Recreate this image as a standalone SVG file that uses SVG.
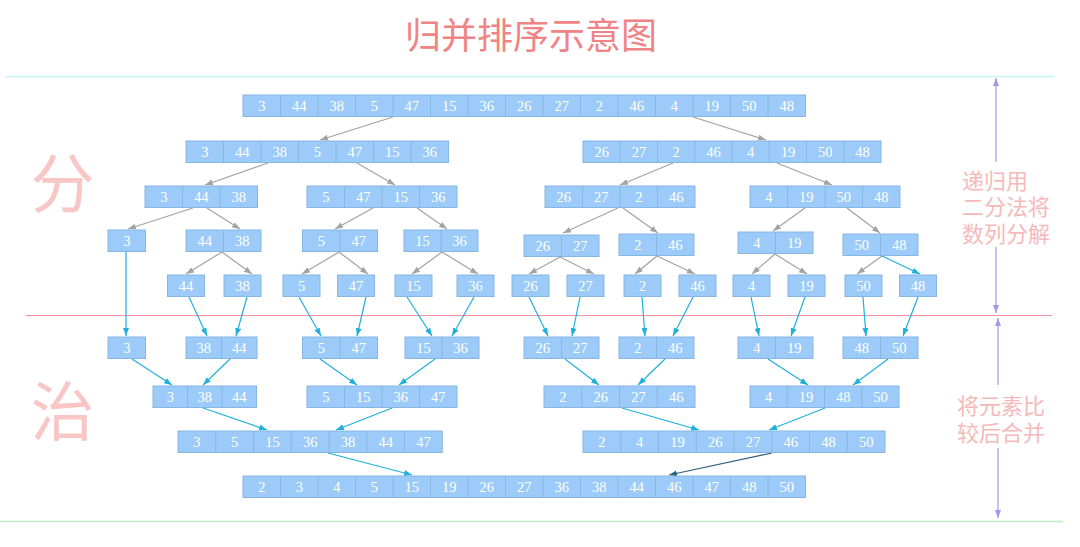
<svg xmlns="http://www.w3.org/2000/svg" width="1080" height="547" viewBox="0 0 1080 547">
<style>
.b{fill:#9ccbf9;stroke:#88b6e2;stroke-width:1}
.d{fill:none;stroke:#88b6e2;stroke-width:1}
.t{font-family:"Liberation Serif",serif;font-size:14.5px;fill:#ffffff;text-anchor:middle}
.g{stroke:#a3a3a3;stroke-width:1.2;fill:none;marker-end:url(#mg)}
.c{stroke:#1fb0dc;stroke-width:1.2;fill:none;marker-end:url(#mc)}
.k{stroke:#2d5f7a;stroke-width:1.2;fill:none;marker-end:url(#mk)}
.v{stroke:#9c9cea;stroke-width:1.2;fill:none}
.cjk{font-family:"Noto Sans CJK SC","Noto Sans",sans-serif}
</style>
<defs>
<marker id="mg" markerUnits="userSpaceOnUse" markerWidth="9" markerHeight="7" refX="8" refY="3" orient="auto"><path d="M0,0 L8,3 L0,6 z" fill="#a3a3a3"/></marker>
<marker id="mc" markerUnits="userSpaceOnUse" markerWidth="9" markerHeight="7" refX="8" refY="3" orient="auto"><path d="M0,0 L8,3 L0,6 z" fill="#1fb0dc"/></marker>
<marker id="mk" markerUnits="userSpaceOnUse" markerWidth="9" markerHeight="7" refX="8" refY="3" orient="auto"><path d="M0,0 L8,3 L0,6 z" fill="#2d5f7a"/></marker>
<marker id="mv" markerUnits="userSpaceOnUse" markerWidth="9" markerHeight="7" refX="8" refY="3" orient="auto-start-reverse"><path d="M0,0 L8,3 L0,6 z" fill="#9c9cea"/></marker>
</defs>
<rect width="1080" height="547" fill="#ffffff"/>

<g id="title"><text class="cjk" x="531" y="49" font-size="36" fill="#f08383" text-anchor="middle">归并排序示意图</text></g>

<g id="guides">
<line x1="5" y1="76.5" x2="1055" y2="76.5" stroke="#c6f4ee" stroke-width="1.5"/>
<line x1="26" y1="315.5" x2="1052" y2="315.5" stroke="#f3959f" stroke-width="1"/>
<line x1="0" y1="521.5" x2="1063" y2="521.5" stroke="#b9f0c3" stroke-width="1.5"/>
</g>

<g id="side-labels">
<text class="cjk" x="62.5" y="207" font-size="64" fill="#f9c6c6" text-anchor="middle">分</text>
<text class="cjk" x="62.5" y="435" font-size="64" fill="#f9c6c6" text-anchor="middle">治</text>
<g class="cjk" font-size="22" fill="#f6b9b9">
<text x="962" y="189">递归用</text>
<text x="962" y="215">二分法将</text>
<text x="962" y="242">数列分解</text>
<text x="957" y="414">将元素比</text>
<text x="957" y="441">较后合并</text>
</g>
<line class="v" x1="996" y1="78" x2="996" y2="162" marker-start="url(#mv)"/>
<line class="v" x1="996" y1="247" x2="996" y2="313" marker-end="url(#mv)"/>
<line class="v" x1="998" y1="318" x2="998" y2="385" marker-start="url(#mv)"/>
<line class="v" x1="998" y1="448" x2="998" y2="518" marker-end="url(#mv)"/>
</g>

<g id="connectors">
<line class="g" x1="393" y1="117" x2="320" y2="140"/>
<line class="g" x1="693" y1="117" x2="766" y2="140"/>
<line class="g" x1="268" y1="163" x2="205" y2="185"/>
<line class="g" x1="357" y1="163" x2="395" y2="185"/>
<line class="g" x1="673" y1="163" x2="620" y2="185"/>
<line class="g" x1="777" y1="163" x2="832" y2="185"/>
<line class="g" x1="193" y1="208" x2="128" y2="229"/>
<line class="g" x1="207" y1="208" x2="240" y2="229"/>
<line class="g" x1="373" y1="208" x2="335" y2="229"/>
<line class="g" x1="417" y1="208" x2="447" y2="229"/>
<line class="g" x1="618" y1="208" x2="563" y2="233"/>
<line class="g" x1="623" y1="208" x2="658" y2="233"/>
<line class="g" x1="805" y1="208" x2="773" y2="231"/>
<line class="g" x1="847" y1="208" x2="880" y2="233"/>
<line class="g" x1="222" y1="252" x2="186" y2="274"/>
<line class="g" x1="222" y1="252" x2="252" y2="274"/>
<line class="g" x1="339" y1="252" x2="302" y2="274"/>
<line class="g" x1="339" y1="252" x2="368" y2="274"/>
<line class="g" x1="442" y1="252" x2="412" y2="274"/>
<line class="g" x1="442" y1="252" x2="478" y2="274"/>
<line class="g" x1="560" y1="257" x2="529" y2="274"/>
<line class="g" x1="560" y1="257" x2="594" y2="274"/>
<line class="g" x1="657" y1="256" x2="635" y2="274"/>
<line class="g" x1="657" y1="256" x2="695" y2="274"/>
<line class="g" x1="775" y1="254" x2="752" y2="274"/>
<line class="g" x1="775" y1="254" x2="807" y2="274"/>
<line class="g" x1="882" y1="256" x2="857" y2="274"/>
<line class="c" x1="882" y1="256" x2="920" y2="274"/>
<line class="c" x1="126" y1="252" x2="126" y2="336"/>
<line class="c" x1="189" y1="297" x2="207" y2="336"/>
<line class="c" x1="247" y1="297" x2="236" y2="336"/>
<line class="c" x1="299" y1="297" x2="321" y2="336"/>
<line class="c" x1="366" y1="297" x2="357" y2="336"/>
<line class="c" x1="407" y1="297" x2="432" y2="336"/>
<line class="c" x1="474" y1="297" x2="452" y2="336"/>
<line class="c" x1="529" y1="297" x2="548" y2="336"/>
<line class="c" x1="580" y1="297" x2="572" y2="336"/>
<line class="c" x1="642" y1="297" x2="645" y2="336"/>
<line class="c" x1="693" y1="297" x2="673" y2="336"/>
<line class="c" x1="751" y1="297" x2="759" y2="336"/>
<line class="c" x1="805" y1="297" x2="791" y2="336"/>
<line class="c" x1="863" y1="297" x2="866" y2="336"/>
<line class="c" x1="918" y1="297" x2="903" y2="336"/>
<line class="c" x1="132" y1="359" x2="172" y2="385"/>
<line class="c" x1="230" y1="359" x2="203" y2="385"/>
<line class="c" x1="320" y1="359" x2="357" y2="385"/>
<line class="c" x1="435" y1="359" x2="399" y2="385"/>
<line class="c" x1="565" y1="359" x2="599" y2="385"/>
<line class="c" x1="665" y1="359" x2="638" y2="385"/>
<line class="c" x1="768" y1="359" x2="808" y2="385"/>
<line class="c" x1="888" y1="359" x2="853" y2="385"/>
<line class="c" x1="203" y1="408" x2="267" y2="430"/>
<line class="c" x1="392" y1="408" x2="336" y2="430"/>
<line class="c" x1="622" y1="408" x2="699" y2="430"/>
<line class="c" x1="825" y1="408" x2="769" y2="430"/>
<line class="c" x1="328" y1="453" x2="412" y2="475"/>
<line class="k" x1="772" y1="453" x2="669" y2="475"/>
</g>

<g id="n1" transform="translate(243,95)"><rect class="b" width="562.5" height="21.5"/><path class="d" d="M37.5 0v21.5M75 0v21.5M112.5 0v21.5M150 0v21.5M187.5 0v21.5M225 0v21.5M262.5 0v21.5M300 0v21.5M337.5 0v21.5M375 0v21.5M412.5 0v21.5M450 0v21.5M487.5 0v21.5M525 0v21.5"/>
<text class="t" x="18.75" y="15.5">3</text><text class="t" x="56.25" y="15.5">44</text><text class="t" x="93.75" y="15.5">38</text><text class="t" x="131.25" y="15.5">5</text><text class="t" x="168.75" y="15.5">47</text><text class="t" x="206.25" y="15.5">15</text><text class="t" x="243.75" y="15.5">36</text><text class="t" x="281.25" y="15.5">26</text><text class="t" x="318.75" y="15.5">27</text><text class="t" x="356.25" y="15.5">2</text><text class="t" x="393.75" y="15.5">46</text><text class="t" x="431.25" y="15.5">4</text><text class="t" x="468.75" y="15.5">19</text><text class="t" x="506.25" y="15.5">50</text><text class="t" x="543.75" y="15.5">48</text></g>

<g id="n2" transform="translate(186,141)"><rect class="b" width="262.5" height="21.5"/><path class="d" d="M37.5 0v21.5M75 0v21.5M112.5 0v21.5M150 0v21.5M187.5 0v21.5M225 0v21.5"/>
<text class="t" x="18.75" y="15.5">3</text><text class="t" x="56.25" y="15.5">44</text><text class="t" x="93.75" y="15.5">38</text><text class="t" x="131.25" y="15.5">5</text><text class="t" x="168.75" y="15.5">47</text><text class="t" x="206.25" y="15.5">15</text><text class="t" x="243.75" y="15.5">36</text></g>

<g id="n3" transform="translate(583,141)"><rect class="b" width="298" height="21.5"/><path class="d" d="M37.25 0v21.5M74.5 0v21.5M111.75 0v21.5M149 0v21.5M186.25 0v21.5M223.5 0v21.5M260.75 0v21.5"/>
<text class="t" x="18.625" y="15.5">26</text><text class="t" x="55.875" y="15.5">27</text><text class="t" x="93.125" y="15.5">2</text><text class="t" x="130.375" y="15.5">46</text><text class="t" x="167.625" y="15.5">4</text><text class="t" x="204.875" y="15.5">19</text><text class="t" x="242.125" y="15.5">50</text><text class="t" x="279.375" y="15.5">48</text></g>

<g id="n4" transform="translate(145,186)"><rect class="b" width="112.5" height="21.5"/><path class="d" d="M37.5 0v21.5M75 0v21.5"/>
<text class="t" x="18.75" y="15.5">3</text><text class="t" x="56.25" y="15.5">44</text><text class="t" x="93.75" y="15.5">38</text></g>

<g id="n5" transform="translate(307,186)"><rect class="b" width="150" height="21.5"/><path class="d" d="M37.5 0v21.5M75 0v21.5M112.5 0v21.5"/>
<text class="t" x="18.75" y="15.5">5</text><text class="t" x="56.25" y="15.5">47</text><text class="t" x="93.75" y="15.5">15</text><text class="t" x="131.25" y="15.5">36</text></g>

<g id="n6" transform="translate(545,186)"><rect class="b" width="150" height="21.5"/><path class="d" d="M37.5 0v21.5M75 0v21.5M112.5 0v21.5"/>
<text class="t" x="18.75" y="15.5">26</text><text class="t" x="56.25" y="15.5">27</text><text class="t" x="93.75" y="15.5">2</text><text class="t" x="131.25" y="15.5">46</text></g>

<g id="n7" transform="translate(750,186)"><rect class="b" width="150" height="21.5"/><path class="d" d="M37.5 0v21.5M75 0v21.5M112.5 0v21.5"/>
<text class="t" x="18.75" y="15.5">4</text><text class="t" x="56.25" y="15.5">19</text><text class="t" x="93.75" y="15.5">50</text><text class="t" x="131.25" y="15.5">48</text></g>

<g id="n8" transform="translate(108,230)"><rect class="b" width="37.5" height="21.5"/><text class="t" x="18.75" y="15.5">3</text></g>
<g id="n9" transform="translate(186,230)"><rect class="b" width="75" height="21.5"/><path class="d" d="M37.5 0v21.5"/><text class="t" x="18.75" y="15.5">44</text><text class="t" x="56.25" y="15.5">38</text></g>
<g id="n10" transform="translate(302.5,230)"><rect class="b" width="75" height="21.5"/><path class="d" d="M37.5 0v21.5"/><text class="t" x="18.75" y="15.5">5</text><text class="t" x="56.25" y="15.5">47</text></g>
<g id="n11" transform="translate(404,230)"><rect class="b" width="74" height="21.5"/><path class="d" d="M37 0v21.5"/><text class="t" x="18.5" y="15.5">15</text><text class="t" x="55.5" y="15.5">36</text></g>
<g id="n12" transform="translate(524,235)"><rect class="b" width="75" height="21.5"/><path class="d" d="M37.5 0v21.5"/><text class="t" x="18.75" y="15.5">26</text><text class="t" x="56.25" y="15.5">27</text></g>
<g id="n13" transform="translate(619,234)"><rect class="b" width="75" height="21.5"/><path class="d" d="M37.5 0v21.5"/><text class="t" x="18.75" y="15.5">2</text><text class="t" x="56.25" y="15.5">46</text></g>
<g id="n14" transform="translate(738,232)"><rect class="b" width="75" height="21.5"/><path class="d" d="M37.5 0v21.5"/><text class="t" x="18.75" y="15.5">4</text><text class="t" x="56.25" y="15.5">19</text></g>
<g id="n15" transform="translate(843,234)"><rect class="b" width="75" height="21.5"/><path class="d" d="M37.5 0v21.5"/><text class="t" x="18.75" y="15.5">50</text><text class="t" x="56.25" y="15.5">48</text></g>

<g id="n16" transform="translate(167.5,275)"><rect class="b" width="37" height="21.5"/><text class="t" x="18.5" y="15.5">44</text></g>
<g id="n17" transform="translate(224,275)"><rect class="b" width="37" height="21.5"/><text class="t" x="18.5" y="15.5">38</text></g>
<g id="n18" transform="translate(283,275)"><rect class="b" width="37" height="21.5"/><text class="t" x="18.5" y="15.5">5</text></g>
<g id="n19" transform="translate(337.5,275)"><rect class="b" width="37" height="21.5"/><text class="t" x="18.5" y="15.5">47</text></g>
<g id="n20" transform="translate(395,275)"><rect class="b" width="37" height="21.5"/><text class="t" x="18.5" y="15.5">15</text></g>
<g id="n21" transform="translate(457,275)"><rect class="b" width="37" height="21.5"/><text class="t" x="18.5" y="15.5">36</text></g>
<g id="n22" transform="translate(512,275)"><rect class="b" width="37" height="21.5"/><text class="t" x="18.5" y="15.5">26</text></g>
<g id="n23" transform="translate(567,275)"><rect class="b" width="37" height="21.5"/><text class="t" x="18.5" y="15.5">27</text></g>
<g id="n24" transform="translate(624,275)"><rect class="b" width="37" height="21.5"/><text class="t" x="18.5" y="15.5">2</text></g>
<g id="n25" transform="translate(679,275)"><rect class="b" width="37" height="21.5"/><text class="t" x="18.5" y="15.5">46</text></g>
<g id="n26" transform="translate(733,275)"><rect class="b" width="37" height="21.5"/><text class="t" x="18.5" y="15.5">4</text></g>
<g id="n27" transform="translate(788,275)"><rect class="b" width="37" height="21.5"/><text class="t" x="18.5" y="15.5">19</text></g>
<g id="n28" transform="translate(845,275)"><rect class="b" width="37" height="21.5"/><text class="t" x="18.5" y="15.5">50</text></g>
<g id="n29" transform="translate(899.5,275)"><rect class="b" width="37" height="21.5"/><text class="t" x="18.5" y="15.5">48</text></g>

<g id="n30" transform="translate(108,337)"><rect class="b" width="37.5" height="21.5"/><text class="t" x="18.75" y="15.5">3</text></g>
<g id="n31" transform="translate(186,337)"><rect class="b" width="71" height="21.5"/><path class="d" d="M35.5 0v21.5"/><text class="t" x="17.75" y="15.5">38</text><text class="t" x="53.25" y="15.5">44</text></g>
<g id="n32" transform="translate(302.5,337)"><rect class="b" width="75" height="21.5"/><path class="d" d="M37.5 0v21.5"/><text class="t" x="18.75" y="15.5">5</text><text class="t" x="56.25" y="15.5">47</text></g>
<g id="n33" transform="translate(405,337)"><rect class="b" width="74" height="21.5"/><path class="d" d="M37 0v21.5"/><text class="t" x="18.5" y="15.5">15</text><text class="t" x="55.5" y="15.5">36</text></g>
<g id="n34" transform="translate(524,337)"><rect class="b" width="75" height="21.5"/><path class="d" d="M37.5 0v21.5"/><text class="t" x="18.75" y="15.5">26</text><text class="t" x="56.25" y="15.5">27</text></g>
<g id="n35" transform="translate(619,337)"><rect class="b" width="75" height="21.5"/><path class="d" d="M37.5 0v21.5"/><text class="t" x="18.75" y="15.5">2</text><text class="t" x="56.25" y="15.5">46</text></g>
<g id="n36" transform="translate(738,337)"><rect class="b" width="75" height="21.5"/><path class="d" d="M37.5 0v21.5"/><text class="t" x="18.75" y="15.5">4</text><text class="t" x="56.25" y="15.5">19</text></g>
<g id="n37" transform="translate(843,337)"><rect class="b" width="75" height="21.5"/><path class="d" d="M37.5 0v21.5"/><text class="t" x="18.75" y="15.5">48</text><text class="t" x="56.25" y="15.5">50</text></g>

<g id="n38" transform="translate(153,386)"><rect class="b" width="103.5" height="21.5"/><path class="d" d="M34.5 0v21.5M69 0v21.5"/><text class="t" x="17.25" y="15.5">3</text><text class="t" x="51.75" y="15.5">38</text><text class="t" x="86.25" y="15.5">44</text></g>
<g id="n39" transform="translate(307,386)"><rect class="b" width="150" height="21.5"/><path class="d" d="M37.5 0v21.5M75 0v21.5M112.5 0v21.5"/><text class="t" x="18.75" y="15.5">5</text><text class="t" x="56.25" y="15.5">15</text><text class="t" x="93.75" y="15.5">36</text><text class="t" x="131.25" y="15.5">47</text></g>
<g id="n40" transform="translate(544,386)"><rect class="b" width="151" height="21.5"/><path class="d" d="M37.75 0v21.5M75.5 0v21.5M113.25 0v21.5"/><text class="t" x="18.875" y="15.5">2</text><text class="t" x="56.625" y="15.5">26</text><text class="t" x="94.375" y="15.5">27</text><text class="t" x="132.125" y="15.5">46</text></g>
<g id="n41" transform="translate(750,386)"><rect class="b" width="149" height="21.5"/><path class="d" d="M37.25 0v21.5M74.5 0v21.5M111.75 0v21.5"/><text class="t" x="18.625" y="15.5">4</text><text class="t" x="55.875" y="15.5">19</text><text class="t" x="93.125" y="15.5">48</text><text class="t" x="130.375" y="15.5">50</text></g>

<g id="n42" transform="translate(178,431)"><rect class="b" width="264.25" height="21.5"/><path class="d" d="M37.75 0v21.5M75.5 0v21.5M113.25 0v21.5M151 0v21.5M188.75 0v21.5M226.5 0v21.5"/><text class="t" x="18.875" y="15.5">3</text><text class="t" x="56.625" y="15.5">5</text><text class="t" x="94.375" y="15.5">15</text><text class="t" x="132.125" y="15.5">36</text><text class="t" x="169.875" y="15.5">38</text><text class="t" x="207.625" y="15.5">44</text><text class="t" x="245.375" y="15.5">47</text></g>
<g id="n43" transform="translate(583,431)"><rect class="b" width="302" height="21.5"/><path class="d" d="M37.75 0v21.5M75.5 0v21.5M113.25 0v21.5M151 0v21.5M188.75 0v21.5M226.5 0v21.5M264.25 0v21.5"/><text class="t" x="18.875" y="15.5">2</text><text class="t" x="56.625" y="15.5">4</text><text class="t" x="94.375" y="15.5">19</text><text class="t" x="132.125" y="15.5">26</text><text class="t" x="169.875" y="15.5">27</text><text class="t" x="207.625" y="15.5">46</text><text class="t" x="245.375" y="15.5">48</text><text class="t" x="283.125" y="15.5">50</text></g>

<g id="n44" transform="translate(243,476)"><rect class="b" width="562.5" height="21.5"/><path class="d" d="M37.5 0v21.5M75 0v21.5M112.5 0v21.5M150 0v21.5M187.5 0v21.5M225 0v21.5M262.5 0v21.5M300 0v21.5M337.5 0v21.5M375 0v21.5M412.5 0v21.5M450 0v21.5M487.5 0v21.5M525 0v21.5"/>
<text class="t" x="18.75" y="15.5">2</text><text class="t" x="56.25" y="15.5">3</text><text class="t" x="93.75" y="15.5">4</text><text class="t" x="131.25" y="15.5">5</text><text class="t" x="168.75" y="15.5">15</text><text class="t" x="206.25" y="15.5">19</text><text class="t" x="243.75" y="15.5">26</text><text class="t" x="281.25" y="15.5">27</text><text class="t" x="318.75" y="15.5">36</text><text class="t" x="356.25" y="15.5">38</text><text class="t" x="393.75" y="15.5">44</text><text class="t" x="431.25" y="15.5">46</text><text class="t" x="468.75" y="15.5">47</text><text class="t" x="506.25" y="15.5">48</text><text class="t" x="543.75" y="15.5">50</text></g>
</svg>
